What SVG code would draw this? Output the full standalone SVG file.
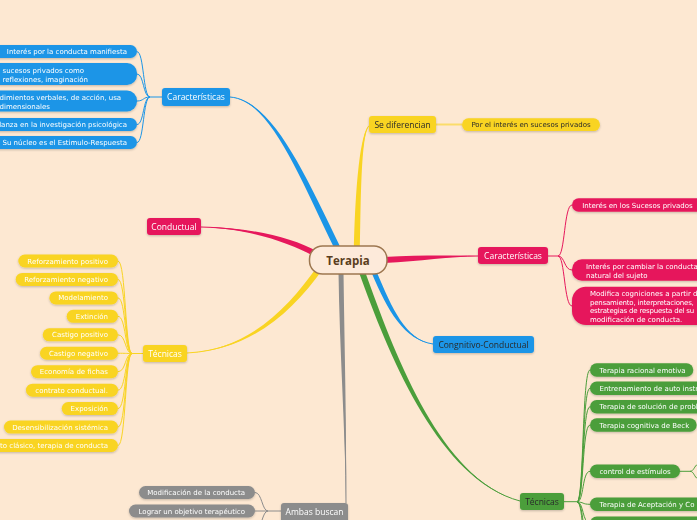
<svg xmlns="http://www.w3.org/2000/svg" width="697" height="520" viewBox="0 0 697 520">
<defs>
<filter id="sh" x="-10%" y="-30%" width="120%" height="170%"><feDropShadow dx="0" dy="1" stdDeviation="0.8" flood-color="#000" flood-opacity="0.22"/></filter>
<style>
.lt{font-family:"DejaVu Sans",Verdana,sans-serif;font-size:7px;fill:#fff}
.mt{font-family:"Open Sans","Liberation Sans",sans-serif;font-size:8.5px;fill:#fff;text-anchor:middle}
.dk{fill:#2a2a2a}
.e{text-anchor:end}
.m{text-anchor:middle}
.ls{letter-spacing:-0.2px}
.b{fill:#1b95e7}.y{fill:#f9d423}.r{fill:#e6185c}.g{fill:#4b9e3b}.gr{fill:#8c8c8c}
.c{fill:none;stroke-width:1}
.sb{stroke:#1b95e7}.sy{stroke:#f9d423}.sr{stroke:#e6185c}.sg{stroke:#4b9e3b}.sgr{stroke:#8c8c8c}
</style>
</defs>
<rect width="697" height="520" fill="#fde8d2"/>
<g id="connectors">
<path class="b" d="M339.7 245.7 C302.7 168.7 270.8 99.6 230 97 C269.2 100.4 297.3 171.3 334.3 248.3 Z"/>
<path class="c sb" stroke-width="1.3" d="M337 247 C300 170 270 100 230 97"/>
<path class="r" d="M317.4 251.4 C291.4 237.4 250.4 227.2 201 227 C249.6 228.8 288.6 242.6 314.6 256.6 Z"/>
<path class="c sr" stroke-width="1.3" d="M316 254 C290 240 250 228 201 227"/>
<path class="y" d="M322.4 269.7 C292.4 311.7 250.7 350.5 187 353 C249.3 349.5 287.6 308.3 317.6 266.3 Z"/>
<path class="c sy" stroke-width="1.3" d="M320 268 C290 310 250 350 187 353"/>
<path class="y" d="M360 250 C361 200 360.9 130 370 125 C359.1 130 355 200 354 250 Z"/>
<path class="c sy" stroke-width="1.3" d="M357 250 C358 200 360 130 370 125"/>
<path class="r" d="M384.2 263 C420.2 261 450 256.9 478 256 C450 255.1 419.8 255 383.8 257 Z"/>
<path class="c sr" stroke-width="1.3" d="M384 260 C420 258 450 256 478 256"/>
<path class="b" d="M371.7 273 C387.7 311 404.3 340.3 433 344 C405.7 339.7 392.3 309 376.3 271 Z"/>
<path class="c sb" stroke-width="1.3" d="M374 272 C390 310 405 340 433 344"/>
<path class="g" d="M359.2 273 C389.2 356 439.2 480.3 520 501 C440.8 479.7 394.8 354 364.8 271 Z"/>
<path class="c sg" stroke-width="1.3" d="M362 272 C392 355 440 480 520 501"/>
<path class="gr" d="M338.5 272 C339.5 350 345.25 430 346 503 C346.75 430 344.5 350 343.5 272 Z"/>
<path class="c sgr" stroke-width="2" d="M341 272 C342 350 346 430 346 503"/>
<path d="M436 124.5 H462" stroke="#fbdc6a" stroke-width="2" fill="none"/>
<g class="c sb">
<path d="M162 97 H150"/>
<path d="M150 97 C143 97 144 51.7 137 51.7"/>
<path d="M150 97 C143 97 144 74 137 74"/>
<path d="M150 97 C143 97 144 101 137 101"/>
<path d="M150 97 C143 97 144 124.5 137 124.5"/>
<path d="M150 97 C143 97 144 142.5 137 142.5"/>
</g>
<g class="c sr">
<path d="M548 256 H558"/>
<path d="M558 256 C565 256 564 205 572 205"/>
<path d="M558 256 C565 256 564 270 572 270"/>
<path d="M558 256 C565 256 564 306 572 306"/>
</g>
<g class="c sy">
<path d="M143 353.5 H132"/>
<path d="M132 353.5 C125 353.5 126 261 118 261"/>
<path d="M132 353.5 C125 353.5 126 279.45 118 279.45"/>
<path d="M132 353.5 C125 353.5 126 297.9 118 297.9"/>
<path d="M132 353.5 C125 353.5 126 316.35 118 316.35"/>
<path d="M132 353.5 C125 353.5 126 334.8 118 334.8"/>
<path d="M132 353.5 C125 353.5 126 353.25 118 353.25"/>
<path d="M132 353.5 C125 353.5 126 371.7 118 371.7"/>
<path d="M132 353.5 C125 353.5 126 390.15 118 390.15"/>
<path d="M132 353.5 C125 353.5 126 408.6 118 408.6"/>
<path d="M132 353.5 C125 353.5 126 427.05 118 427.05"/>
<path d="M132 353.5 C125 353.5 126 445.5 118 445.5"/>
</g>
<g class="c sgr">
<path d="M281 511 H268"/>
<path d="M268 511 C262 511 262 492.5 255 492.5"/>
<path d="M268 511 H255"/>
<path d="M268 511 C262 511 262 530 255 530"/>
</g>
<g class="c sg">
<path d="M564 501.7 H577"/>
<path d="M577 502 C584 502 582 370 590 370"/>
<path d="M577 502 C584 502 582 388.3 590 388.3"/>
<path d="M577 502 C584 502 582 406.7 590 406.7"/>
<path d="M577 502 C584 502 582 425 590 425"/>
<path d="M577 502 C584 502 582 471.3 590 471.3"/>
<path d="M577 502 C584 502 582 504.3 590 504.3"/>
<path d="M577 502 C584 502 582 523 590 523"/>
<path d="M577 502 C584 502 582 541 590 541"/>
<path d="M577 502 C584 502 582 560 590 560"/>
<path d="M680 471.3 H690"/>
<path d="M690 471.3 C694 471.3 694 466 698 464"/>
<path d="M690 471.3 C694 471.3 694 477 698 479"/>
</g>
</g>
<g id="terapia">
<rect x="309.5" y="246" width="77.5" height="28" rx="13" fill="#fdeada" stroke="#9d7750" stroke-width="1.5"/>
<text x="348" y="264.5" font-family="'Open Sans','Liberation Sans',sans-serif" font-size="11.5" font-weight="bold" fill="#5a3d20" text-anchor="middle">Terapia</text>
</g>
<g id="caracteristicas-conductual" filter="url(#sh)">
<rect class="b" x="162" y="88" width="68" height="18" rx="3"/>
<text class="mt" x="196" y="100">Características</text>
</g>
<g id="conductual" filter="url(#sh)">
<rect class="r" x="147" y="218" width="54" height="17" rx="3"/>
<text class="mt" x="174" y="229.8">Conductual</text>
</g>
<g id="tecnicas-conductual" filter="url(#sh)">
<rect class="y" x="143" y="345" width="44" height="17" rx="3"/>
<text class="mt" x="165" y="356.8">Técnicas</text>
</g>
<g id="se-diferencian" filter="url(#sh)">
<rect class="y" x="369" y="116" width="67" height="17" rx="3"/>
<text class="mt dk" x="402.5" y="127.8">Se diferencian</text>
</g>
<g id="por-el-interes" filter="url(#sh)">
<rect class="y" x="462" y="118.3" width="138" height="12.7" rx="6.35"/>
<text class="lt dk m" x="531" y="127.2">Por el interés en sucesos privados</text>
</g>
<g id="caracteristicas-cc" filter="url(#sh)">
<rect class="r" x="478" y="247" width="70" height="17" rx="3"/>
<text class="mt" x="513" y="258.8">Características</text>
</g>
<g id="congnitivo-conductual" filter="url(#sh)">
<rect class="b" x="433" y="336" width="101" height="17" rx="3"/>
<text class="mt dk" x="483.5" y="347.8">Congnitivo-Conductual</text>
</g>
<g id="tecnicas-cc" filter="url(#sh)">
<rect class="g" x="520" y="493" width="44" height="17" rx="3"/>
<text class="mt dk" x="542" y="504.8">Técnicas</text>
</g>
<g id="ambas-buscan" filter="url(#sh)">
<rect class="gr" x="281" y="503" width="67" height="20" rx="3"/>
<text class="mt" x="314.5" y="514.8">Ambas buscan</text>
</g>
<g id="blue-leaves" filter="url(#sh)">
<rect class="b" x="-10" y="45" width="147" height="13" rx="6.5"/>
<text class="lt e" x="127" y="54.2">Interés por la conducta manifiesta</text>
<rect class="b" x="-10" y="63" width="147" height="22" rx="10"/>
<text class="lt" x="2.5" y="72.5">sucesos privados como</text>
<text class="lt" x="2.5" y="81.7">reflexiones, imaginación</text>
<rect class="b" x="-10" y="90.5" width="147" height="21" rx="10"/>
<text class="lt" x="-0.5" y="99.8">dimientos verbales, de acción, usa</text>
<text class="lt" x="-0.5" y="108.5">dimensionales</text>
<rect class="b" x="-10" y="118" width="147" height="13" rx="6.5"/>
<text class="lt e" x="127" y="127">lanza en la investigación psicológica</text>
<rect class="b" x="-10" y="136" width="147" height="13" rx="6.5"/>
<text class="lt e" x="127" y="145">Su núcleo es el Estimulo-Respuesta</text>
</g>
<g id="yellow-leaves" filter="url(#sh)">
<rect class="y" x="18.3" y="254.5" width="99.7" height="13" rx="6.5"/>
<text class="lt e" x="108" y="263.5">Reforzamiento positivo</text>
<rect class="y" x="15.7" y="272.95" width="102.3" height="13" rx="6.5"/>
<text class="lt e" x="108" y="281.95">Reforzamiento negativo</text>
<rect class="y" x="49.3" y="291.4" width="68.7" height="13" rx="6.5"/>
<text class="lt e" x="108" y="300.4">Modelamiento</text>
<rect class="y" x="66.7" y="309.85" width="51.3" height="13" rx="6.5"/>
<text class="lt e" x="108" y="318.85">Extinción</text>
<rect class="y" x="42.7" y="328.3" width="75.3" height="13" rx="6.5"/>
<text class="lt e" x="108" y="337.3">Castigo positivo</text>
<rect class="y" x="40" y="346.75" width="78" height="13" rx="6.5"/>
<text class="lt e" x="108" y="355.75">Castigo negativo</text>
<rect class="y" x="31" y="365.2" width="87" height="13" rx="6.5"/>
<text class="lt e" x="108" y="374.2">Economía de fichas</text>
<rect class="y" x="26" y="383.65" width="92" height="13" rx="6.5"/>
<text class="lt e" x="108" y="392.65">contrato conductual.</text>
<rect class="y" x="61.7" y="402.1" width="56.3" height="13" rx="6.5"/>
<text class="lt e" x="108" y="411.1">Exposición</text>
<rect class="y" x="4" y="420.55" width="114" height="13" rx="6.5"/>
<text class="lt e" x="108" y="429.55">Desensibilización sistémica</text>
<rect class="y" x="-10" y="439" width="128" height="13" rx="6.5"/>
<text class="lt e" x="108" y="448">to clásico, terapia de conducta</text>
</g>
<g id="gray-leaves" filter="url(#sh)">
<rect class="gr" x="139" y="486" width="116" height="13" rx="6.5"/>
<text class="lt e" x="245" y="495">Modificación de la conducta</text>
<rect class="gr" x="129" y="504.5" width="126" height="13" rx="6.5"/>
<text class="lt e" x="245" y="513.5">Lograr un objetivo terapéutico</text>
</g>
<g id="red-leaves" filter="url(#sh)">
<rect class="r" x="572" y="198.3" width="140" height="13.4" rx="6.7"/>
<text class="lt" x="582.3" y="207.5">Interés en los Sucesos privados</text>
<rect class="r" x="572" y="259.3" width="140" height="21.4" rx="10"/>
<text class="lt" x="586" y="269.2">Interés por cambiar la conducta</text>
<text class="lt" x="586" y="278.2">natural del sujeto</text>
<rect class="r" x="572" y="286.7" width="140" height="38.3" rx="14"/>
<text class="lt" x="590" y="295.8">Modifica cogniciones a partir d</text>
<text class="lt ls" x="590" y="304.5">pensamiento, interpretaciones,</text>
<text class="lt ls" x="590" y="313.2">estrategias de respuesta del su</text>
<text class="lt" x="590" y="321.8">modificación de conducta.</text>
</g>
<g id="green-leaves" filter="url(#sh)">
<rect class="g" x="590" y="363.3" width="103.3" height="13.4" rx="6.7"/>
<text class="lt" x="599.5" y="372.5">Terapia racional emotiva</text>
<rect class="g" x="590" y="381.6" width="120" height="13.4" rx="6.7"/>
<text class="lt" x="599.5" y="390.8">Entrenamiento de auto instr</text>
<rect class="g" x="590" y="400" width="120" height="13.4" rx="6.7"/>
<text class="lt" x="599.5" y="409.2">Terapia de solución de probl</text>
<rect class="g" x="590" y="418.3" width="106.7" height="13.4" rx="6.7"/>
<text class="lt" x="599.5" y="427.5">Terapia cognitiva de Beck</text>
<rect class="g" x="590" y="464.6" width="90" height="13.4" rx="6.7"/>
<text class="lt" x="599.5" y="473.8">control de estímulos</text>
<rect class="g" x="590" y="497.6" width="120" height="13.4" rx="6.7"/>
<text class="lt" x="599.5" y="506.8">Terapia de Aceptación y Co</text>
<rect class="g" x="590" y="516.5" width="120" height="13.4" rx="6.7"/>
</g>
</svg>
